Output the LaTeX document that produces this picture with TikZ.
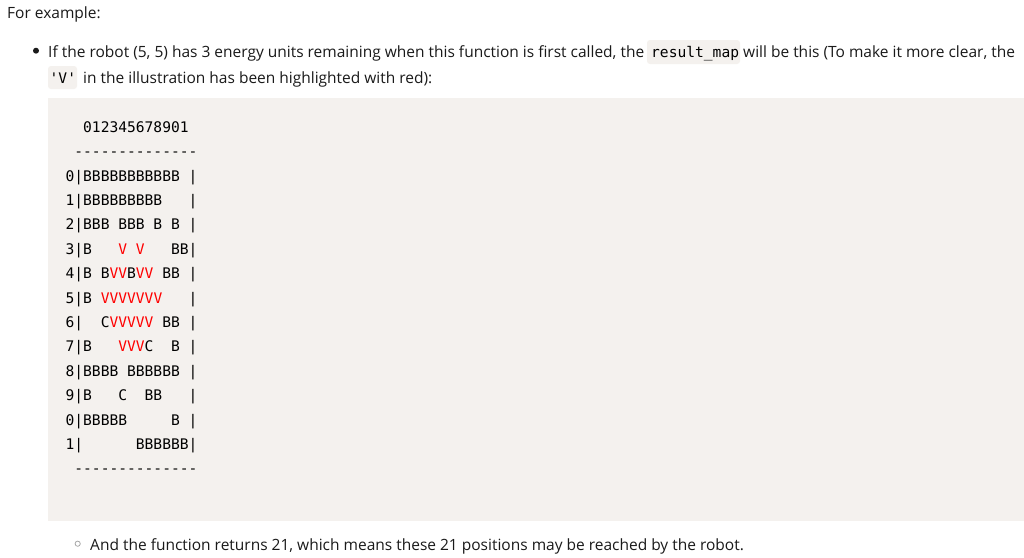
\documentclass[tikz,border=0pt]{standalone}
\usepackage{fontspec}
\setmainfont{Open Sans}
\setmonofont{DejaVu Sans Mono}
\usepackage{tikz}

\definecolor{codebg}{HTML}{F4F1EE}
\definecolor{bodytext}{HTML}{1A1A1A}
\newcommand{\cE}{\phantom{B}}
\newcommand{\cV}{\textcolor{red}{V}}
\tikzset{
  body/.style={anchor=base west, inner sep=0pt, text=bodytext, font=\fontsize{15.5}{18}\selectfont},
  code/.style={anchor=base west, inner sep=0pt, text=black, font=\ttfamily\fontsize{14.6}{18}\selectfont},
  codebox/.style={fill=codebg, rounded corners=3pt},
}

\begin{document}
\begin{tikzpicture}[x=1pt,y=-1pt]
\useasboundingbox (0,0) rectangle (1024,557);
\fill[white] (0,0) rectangle (1024,557);
\fill[codebg] (48,98) rectangle (1024,521);

\node[body] (intro) at (7,18) {For example:};

% first bullet
\fill[bodytext] (36,50.7) circle (3);
\node[body] (lineA) at (48,57.5) {If the robot (5, 5) has 3 energy units remaining when this function is first called, the};
\fill[codebox] (647,40) rectangle (740,64);
\node[code] (resmap) at (651,57.5) {result\_map};
\node[body] (lineB) at (743,57.5) {will be this (To make it more clear, the};
\fill[codebox] (48,66) rectangle (77,89);
\node[code] (vchar) at (49.5,83) {'V'};
\node[body] (lineC) at (83,83) {in the illustration has been highlighted with red):};

% the map
\foreach \k/\txt in {
  0/{\cE\cE012345678901},
  1/{\cE--------------},
  2/{0|BBBBBBBBBBB\cE|},
  3/{1|BBBBBBBBB\cE\cE\cE|},
  4/{2|BBB\cE BBB\cE B\cE B\cE|},
  5/{3|B\cE\cE\cE\cV\cE\cV\cE\cE\cE BB|},
  6/{4|B\cE B\cV\cV B\cV\cV\cE BB\cE|},
  7/{5|B\cE\cV\cV\cV\cV\cV\cV\cV\cE\cE\cE|},
  8/{6|\cE\cE C\cV\cV\cV\cV\cV\cE BB\cE|},
  9/{7|B\cE\cE\cE\cV\cV\cV C\cE\cE B\cE|},
  10/{8|BBBB\cE BBBBBB\cE|},
  11/{9|B\cE\cE\cE C\cE\cE BB\cE\cE\cE|},
  12/{0|BBBBB\cE\cE\cE\cE\cE B\cE|},
  13/{1|\cE\cE\cE\cE\cE\cE BBBBBB|},
  14/{\cE--------------}}
  \node[code] (map\k) at (65.4,132.3+24.4*\k) {\txt};

% second level bullet
\draw[gray!70, line width=0.8pt] (77.7,543.7) circle (2.6);
\node[body] (result) at (90,550) {And the function returns 21, which means these 21 positions may be reached by the robot.};
\end{tikzpicture}
\end{document}
